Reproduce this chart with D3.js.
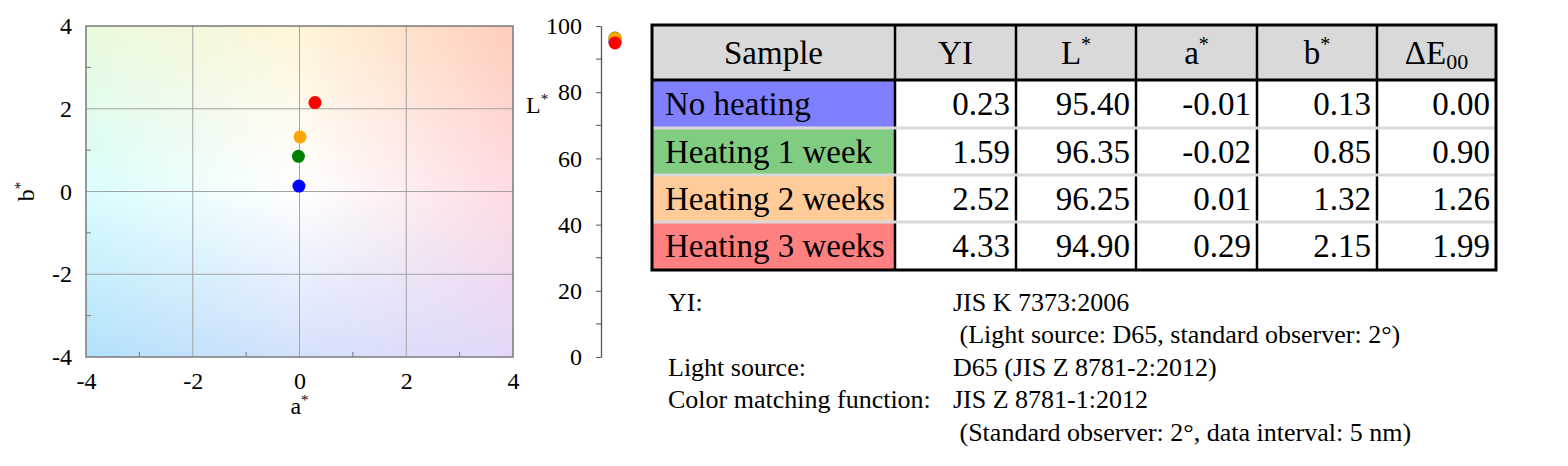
<!DOCTYPE html>
<html>
<head>
<meta charset="utf-8">
<script src="https://cdn.jsdelivr.net/npm/d3@7"></script>
<style>
  html, body { margin: 0; padding: 0; background: #fff; }
  svg { display: block; }
  svg, svg text { font-family: "Liberation Serif", "Times New Roman", Times, "DejaVu Serif", "Noto Serif", serif !important; fill: #000; }
</style>
</head>
<body>
<svg id="chart" width="1568" height="466"></svg>
<script>
// ---------------- data ----------------
const samples  = ["No heating", "Heating 1 week", "Heating 2 weeks", "Heating 3 weeks"];
const yiValues = [0.23, 1.59, 2.52, 4.33];
const lValues  = [95.40, 96.35, 96.25, 94.90];
const aValues  = [-0.01, -0.02, 0.01, 0.29];
const bValues  = [0.13, 0.85, 1.32, 2.15];
const dEValues = [0.00, 0.90, 1.26, 1.99];
const abTicks  = [-4, -2, 0, 2, 4];
const abMinor  = [-3, -1, 1, 3];
const lTicks   = [0, 20, 40, 60, 80, 100];
const lMinor   = [10, 30, 50, 70, 90];
const noteLabels = ["YI:", "", "Light source:", "Color matching function:", ""];
const noteValues = ["JIS K 7373:2006", " (Light source: D65, standard observer: 2°)", "D65 (JIS Z 8781-2:2012)", "JIS Z 8781-1:2012", " (Standard observer: 2°, data interval: 5 nm)"];

// ---------------- styles ----------------
const FONT = "'Liberation Serif', 'Times New Roman', Times, 'DejaVu Serif', serif";
const dotColors  = ["#0000ff", "#008000", "#ffa500", "#ff0000"];
const cellColors = ["#8080ff", "#80cc80", "#ffcc99", "#ff8080"];
const bgGrid = [
  ["#e9fbdc", "#fff5d9", "#ffcdba"],
  ["#dafdfd", "#ffffff", "#ffdbe3"],
  ["#b2e1fb", "#d4e1fc", "#e4d8fa"]
];
const loc = d3.formatLocale({ decimal: ".", thousands: ",", grouping: [3], currency: ["", ""], minus: "-" });
const fmt2 = loc.format(".2f");
const fmtInt = loc.format("d");

const svg = d3.select("#chart").style("font-family", FONT);

// ---------------- a*b* plot ----------------
const P = { left: 86, right: 513, top: 26, bottom: 357 };
const x = d3.scaleLinear().domain([-4, 4]).range([P.left, P.right]);
const y = d3.scaleLinear().domain([-4, 4]).range([P.bottom, P.top]);

// background colour field
(function () {
  const w = Math.round(P.right - P.left), h = Math.round(P.bottom - P.top);
  const cv = document.createElement("canvas");
  cv.width = w; cv.height = h;
  const ctx = cv.getContext("2d");
  const img = ctx.createImageData(w, h);
  const rgb = bgGrid.map(r => r.map(c => d3.rgb(c)));
  const lerp = (p, q, t) => p + (q - p) * t;
  for (let j = 0; j < h; j++) {
    const v = (j / (h - 1)) * 2;
    const r0 = Math.min(1, Math.floor(v)), tv = v - r0;
    for (let i = 0; i < w; i++) {
      const u = (i / (w - 1)) * 2;
      const c0 = Math.min(1, Math.floor(u)), tu = u - c0;
      const A = rgb[r0][c0], B = rgb[r0][c0 + 1], C = rgb[r0 + 1][c0], D = rgb[r0 + 1][c0 + 1];
      const k = (j * w + i) * 4;
      img.data[k]     = lerp(lerp(A.r, B.r, tu), lerp(C.r, D.r, tu), tv);
      img.data[k + 1] = lerp(lerp(A.g, B.g, tu), lerp(C.g, D.g, tu), tv);
      img.data[k + 2] = lerp(lerp(A.b, B.b, tu), lerp(C.b, D.b, tu), tv);
      img.data[k + 3] = 255;
    }
  }
  ctx.putImageData(img, 0, 0);
  svg.append("image")
    .attr("x", P.left).attr("y", P.top)
    .attr("width", w).attr("height", h)
    .attr("preserveAspectRatio", "none")
    .attr("href", cv.toDataURL());
})();

// grid lines
const grid = svg.append("g").attr("stroke", "#a3a3a3").attr("stroke-width", 1);
grid.selectAll("line.gx").data(abTicks.slice(1, -1)).join("line")
  .attr("x1", d => x(d)).attr("x2", d => x(d)).attr("y1", P.top).attr("y2", P.bottom);
grid.selectAll("line.gy").data(abTicks.slice(1, -1)).join("line")
  .attr("y1", d => y(d)).attr("y2", d => y(d)).attr("x1", P.left).attr("x2", P.right);

// minor ticks (inside)
const mt = svg.append("g").attr("stroke", "#777").attr("stroke-width", 1);
mt.selectAll("line.mx").data(abMinor).join("line")
  .attr("x1", d => x(d)).attr("x2", d => x(d)).attr("y1", P.bottom).attr("y2", P.bottom - 5);
mt.selectAll("line.my").data(abMinor).join("line")
  .attr("y1", d => y(d)).attr("y2", d => y(d)).attr("x1", P.left).attr("x2", P.left + 5);

// frame
svg.append("rect")
  .attr("x", P.left).attr("y", P.top)
  .attr("width", P.right - P.left).attr("height", P.bottom - P.top)
  .attr("fill", "none").attr("stroke", "#7a7a7a").attr("stroke-width", 1.5);

// axes (labels only)
const xAxis = svg.append("g").attr("transform", `translate(0,${P.bottom})`)
  .call(d3.axisBottom(x).tickValues(abTicks).tickSize(0).tickPadding(14).tickFormat(fmtInt));
const yAxis = svg.append("g").attr("transform", `translate(${P.left},0)`)
  .call(d3.axisLeft(y).tickValues(abTicks).tickSize(0).tickPadding(14).tickFormat(fmtInt));
[xAxis, yAxis].forEach(g => {
  g.attr("font-family", FONT);
  g.select(".domain").remove();
  g.selectAll("text").attr("font-size", 24).attr("fill", "#000");
});
xAxis.selectAll("text").attr("dy", "0.75em");

// axis titles
const aT = svg.append("text").attr("x", x(0)).attr("y", 414).attr("text-anchor", "middle").attr("font-size", 24);
aT.append("tspan").text("a");
aT.append("tspan").attr("font-size", 15).attr("dy", -9).text("*");
const bT = svg.append("text").attr("transform", `translate(34,${y(0)}) rotate(-90)`).attr("text-anchor", "middle").attr("font-size", 24);
bT.append("tspan").text("b");
bT.append("tspan").attr("font-size", 15).attr("dy", -9).text("*");

// points
svg.append("g").selectAll("circle").data(samples.map((s, i) => i)).join("circle")
  .attr("cx", i => x(aValues[i])).attr("cy", i => y(bValues[i])).attr("r", 6.5)
  .attr("fill", i => dotColors[i]);

// ---------------- L* axis ----------------
const LX = 601;
const yl = d3.scaleLinear().domain([0, 100]).range([P.bottom, P.top]);
const lAxis = svg.append("g").attr("transform", `translate(${LX},0)`)
  .call(d3.axisLeft(yl).tickValues(lTicks).tickSize(5).tickPadding(14).tickSizeOuter(0).tickFormat(fmtInt));
lAxis.attr("font-family", FONT);
lAxis.select(".domain").attr("stroke", "#555").attr("stroke-width", 1.3);
lAxis.selectAll(".tick line").attr("stroke", "#555");
lAxis.selectAll("text").attr("font-size", 24).attr("fill", "#000");
svg.append("g").attr("stroke", "#555").selectAll("line").data(lMinor).join("line")
  .attr("x1", LX - 5).attr("x2", LX).attr("y1", d => yl(d)).attr("y2", d => yl(d));
const LT = svg.append("text").attr("x", 526).attr("y", 113).attr("font-size", 24);
LT.append("tspan").text("L");
LT.append("tspan").attr("font-size", 15).attr("dy", -9).text("*");
svg.append("g").selectAll("circle").data(samples.map((s, i) => i)).join("circle")
  .attr("cx", 615).attr("cy", i => yl(lValues[i])).attr("r", 6.5)
  .attr("fill", i => dotColors[i]);

// ---------------- table ----------------
const colX = [652, 895, 1016, 1136, 1257, 1377, 1496];
const rowY = [25, 80, 128, 175, 222, 270];
const FS = 33;
const tbl = svg.append("g");
tbl.append("rect").attr("x", colX[0]).attr("y", rowY[0]).attr("width", colX[6] - colX[0]).attr("height", rowY[1] - rowY[0]).attr("fill", "#d9d9d9");
tbl.selectAll("rect.sc").data(samples).join("rect")
  .attr("x", colX[0]).attr("y", (d, i) => rowY[i + 1]).attr("width", colX[1] - colX[0]).attr("height", (d, i) => rowY[i + 2] - rowY[i + 1])
  .attr("fill", (d, i) => cellColors[i]);
tbl.selectAll("line.v").data(colX.slice(1, -1)).join("line")
  .attr("x1", d => d).attr("x2", d => d).attr("y1", rowY[0]).attr("y2", rowY[5])
  .attr("stroke", "#000").attr("stroke-width", 2.5);
tbl.selectAll("line.h").data(rowY.slice(2, -1)).join("line")
  .attr("x1", colX[0]).attr("x2", colX[6]).attr("y1", d => d).attr("y2", d => d)
  .attr("stroke", "#d9d9d9").attr("stroke-width", 3);
tbl.append("line").attr("x1", colX[0]).attr("x2", colX[6]).attr("y1", rowY[1]).attr("y2", rowY[1])
  .attr("stroke", "#000").attr("stroke-width", 3);
tbl.append("rect").attr("x", colX[0]).attr("y", rowY[0]).attr("width", colX[6] - colX[0]).attr("height", rowY[5] - rowY[0])
  .attr("fill", "none").attr("stroke", "#000").attr("stroke-width", 3);

const headers = [["Sample", ""], ["YI", ""], ["L", "*"], ["a", "*"], ["b", "*"], ["ΔE", "00"]];
headers.forEach((h, i) => {
  const t = tbl.append("text").attr("x", (colX[i] + colX[i + 1]) / 2).attr("y", 64)
    .attr("text-anchor", "middle").attr("font-size", FS);
  t.append("tspan").text(h[0]);
  if (h[1] === "*") t.append("tspan").attr("font-size", 20).attr("dy", -13).text("*");
  else if (h[1]) t.append("tspan").attr("font-size", 22).attr("dy", 5).text(h[1]);
});
const cols = [yiValues, lValues, aValues, bValues, dEValues];
samples.forEach((s, r) => {
  const yb = (rowY[r + 1] + rowY[r + 2]) / 2 + 11;
  tbl.append("text").attr("x", colX[0] + 13).attr("y", yb).attr("font-size", FS).text(s);
  cols.forEach((arr, c) => {
    tbl.append("text").attr("x", colX[c + 2] - 6).attr("y", yb).attr("text-anchor", "end")
      .attr("font-size", FS).text(fmt2(arr[r]));
  });
});

// ---------------- notes ----------------
const noteY = [311, 343, 376, 408, 441];
const notes = svg.append("g");
noteLabels.forEach((t, i) => {
  if (t) notes.append("text").attr("x", 668).attr("y", noteY[i]).attr("font-size", 26).text(t);
  notes.append("text").attr("x", 953).attr("y", noteY[i]).attr("font-size", 26)
    .style("white-space", "pre").text(noteValues[i]);
});
</script>
</body>
</html>
